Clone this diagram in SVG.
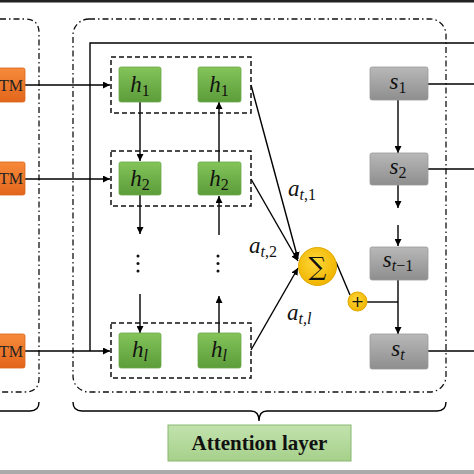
<svg xmlns="http://www.w3.org/2000/svg" width="474" height="474" viewBox="0 0 474 474">
<defs>
<linearGradient id="gGreen" x1="0" y1="0" x2="0" y2="1"><stop offset="0" stop-color="#84c45a"/><stop offset="1" stop-color="#5c9c3a"/></linearGradient>
<linearGradient id="gOrange" x1="0" y1="0" x2="0" y2="1"><stop offset="0" stop-color="#f78a3a"/><stop offset="1" stop-color="#e2661c"/></linearGradient>
<linearGradient id="gGray" x1="0" y1="0" x2="0" y2="1"><stop offset="0" stop-color="#b8b8b8"/><stop offset="1" stop-color="#8e8e8e"/></linearGradient>
<linearGradient id="gAtt" x1="0" y1="0" x2="0" y2="1"><stop offset="0" stop-color="#c2e2ae"/><stop offset="1" stop-color="#a6d08a"/></linearGradient>
<radialGradient id="gGold" cx="0.45" cy="0.4" r="0.6"><stop offset="0" stop-color="#ffd93a"/><stop offset="1" stop-color="#f0b400"/></radialGradient>
<marker id="arr" viewBox="0 0 10 10" refX="10" refY="5" markerWidth="7" markerHeight="7" markerUnits="userSpaceOnUse" orient="auto"><path d="M0,0 L10,5 L0,10 z" fill="#000"/></marker>
</defs>
<style>
.dd{fill:none;stroke:#111;stroke-width:1.3;stroke-dasharray:6 3 1.5 3}
.ds{fill:none;stroke:#111;stroke-width:1.5;stroke-dasharray:5 3}
.ln{fill:none;stroke:#000;stroke-width:1.4}
.ar{fill:none;stroke:#000;stroke-width:1.4;marker-end:url(#arr)}
.gr{fill:url(#gGreen);stroke:#6aa848;stroke-width:0.8}
.gy{fill:url(#gGray);stroke:#999;stroke-width:0.8}
.or{fill:url(#gOrange);stroke:#d8641c;stroke-width:0.8}
.m{font-family:"Liberation Serif","DejaVu Serif",serif;font-style:italic;fill:#111}
.sub{font-style:normal}
.dot{fill:#111}
.lt{font-family:"Liberation Serif",serif;font-size:16px;fill:#222}
</style>
<rect x="0" y="0" width="474" height="2.5" fill="#222"/>
<rect x="0" y="470" width="474" height="4" fill="#aaa"/>

<g id="frames">
<path class="dd" d="M0,19 H25 Q39,19 39,33 V378 Q39,392 25,392 H0"/>
<rect class="dd" x="73" y="19" width="373" height="373" rx="16"/>
<path class="ln" d="M0,411 H30 Q39,411 39,402"/>
<path class="ln" d="M73,402 Q73,411 82,411 H251 Q259,411 259,421 Q259,411 267,411 H437 Q446,411 446,402"/>
</g>

<g id="connectors">
<line class="ar" x1="25" y1="85" x2="110" y2="85"/>
<line class="ar" x1="25" y1="179" x2="110" y2="179"/>
<line class="ar" x1="25" y1="351" x2="110" y2="351"/>
<path class="ln" d="M90,351 V43 H474"/>
<line class="ar" x1="140" y1="102" x2="140" y2="161"/>
<line class="ar" x1="140" y1="195" x2="140" y2="234"/>
<line class="ar" x1="140" y1="294" x2="140" y2="333"/>
<line class="ar" x1="219" y1="162" x2="219" y2="102"/>
<line class="ar" x1="219" y1="235" x2="219" y2="196"/>
<line class="ar" x1="219" y1="333" x2="219" y2="296"/>
<line class="ar" x1="251" y1="85" x2="298" y2="259"/>
<line class="ar" x1="251" y1="179" x2="298" y2="261"/>
<line class="ar" x1="251" y1="350" x2="298" y2="268"/>
<line class="ln" x1="336" y1="262" x2="350" y2="295"/>
<line class="ln" x1="367" y1="302" x2="398" y2="302"/>
<line class="ar" x1="398" y1="100" x2="398" y2="153"/>
<line class="ar" x1="398" y1="185" x2="398" y2="208"/>
<line class="ar" x1="398" y1="225" x2="398" y2="246"/>
<line class="ar" x1="398" y1="280" x2="398" y2="334"/>
<line class="ln" x1="428" y1="84" x2="474" y2="84"/>
<line class="ln" x1="428" y1="169" x2="474" y2="169"/>
<line class="ln" x1="428" y1="351" x2="474" y2="351"/>
<circle class="dot" cx="138" cy="256" r="1.5"/><circle class="dot" cx="138" cy="263.5" r="1.5"/><circle class="dot" cx="138" cy="271" r="1.5"/>
<circle class="dot" cx="218" cy="256" r="1.5"/><circle class="dot" cx="218" cy="263.5" r="1.5"/><circle class="dot" cx="218" cy="271" r="1.5"/>
</g>

<g id="lstm1"><rect class="or" x="-5" y="68" width="30" height="34" rx="2"/><text class="lt" x="23" y="91" text-anchor="end">TM</text></g>
<g id="lstm2"><rect class="or" x="-5" y="162" width="30" height="33" rx="2"/><text class="lt" x="23" y="184" text-anchor="end">TM</text></g>
<g id="lstm3"><rect class="or" x="-5" y="334" width="30" height="34" rx="2"/><text class="lt" x="23" y="357" text-anchor="end">TM</text></g>

<g id="group1"><rect class="ds" x="111" y="57" width="140" height="56"/></g>
<g id="group2"><rect class="ds" x="111" y="151" width="140" height="55"/></g>
<g id="group3"><rect class="ds" x="111" y="323" width="140" height="55"/></g>

<g id="h1a"><rect class="gr" x="119" y="67" width="42" height="35" rx="2"/><text class="m" x="140" y="92" text-anchor="middle" font-size="23">h<tspan class="sub" font-size="16" dy="4">1</tspan></text></g>
<g id="h1b"><rect class="gr" x="198" y="67" width="43" height="35" rx="2"/><text class="m" x="219" y="92" text-anchor="middle" font-size="23">h<tspan class="sub" font-size="16" dy="4">1</tspan></text></g>
<g id="h2a"><rect class="gr" x="119" y="162" width="42" height="33" rx="2"/><text class="m" x="140" y="186" text-anchor="middle" font-size="23">h<tspan class="sub" font-size="16" dy="4">2</tspan></text></g>
<g id="h2b"><rect class="gr" x="198" y="162" width="43" height="33" rx="2"/><text class="m" x="219" y="186" text-anchor="middle" font-size="23">h<tspan class="sub" font-size="16" dy="4">2</tspan></text></g>
<g id="hla"><rect class="gr" x="119" y="333" width="42" height="35" rx="2"/><text class="m" x="140" y="357" text-anchor="middle" font-size="23">h<tspan font-size="16" dy="4">l</tspan></text></g>
<g id="hlb"><rect class="gr" x="198" y="333" width="43" height="35" rx="2"/><text class="m" x="219" y="357" text-anchor="middle" font-size="23">h<tspan font-size="16" dy="4">l</tspan></text></g>

<g id="s1"><rect class="gy" x="370" y="67" width="58" height="33" rx="2"/><text class="m" x="398" y="89" text-anchor="middle" font-size="23">s<tspan class="sub" font-size="16" dy="4">1</tspan></text></g>
<g id="s2"><rect class="gy" x="370" y="153" width="58" height="32" rx="2"/><text class="m" x="398" y="174" text-anchor="middle" font-size="23">s<tspan class="sub" font-size="16" dy="4">2</tspan></text></g>
<g id="st1"><rect class="gy" x="370" y="247" width="58" height="33" rx="2"/><text class="m" x="398" y="267" text-anchor="middle" font-size="23">s<tspan font-size="16" dy="4">t<tspan class="sub">−1</tspan></tspan></text></g>
<g id="st"><rect class="gy" x="370" y="334" width="58" height="35" rx="2"/><text class="m" x="398" y="356" text-anchor="middle" font-size="23">s<tspan font-size="16" dy="4">t</tspan></text></g>

<g id="sum"><circle cx="317.5" cy="266.5" r="19" fill="url(#gGold)" stroke="#e0a800" stroke-width="1"/><text x="317.5" y="275" text-anchor="middle" font-family="DejaVu Serif,serif" font-size="25" fill="#111">∑</text></g>
<g id="plus"><circle cx="357.5" cy="301.5" r="9.5" fill="url(#gGold)" stroke="#e0a800" stroke-width="1"/><text x="357.5" y="307" text-anchor="middle" font-family="DejaVu Sans,sans-serif" font-size="16" fill="#111">+</text></g>

<g id="labels">
<text class="m" x="288" y="196" font-size="23">a<tspan font-size="16" dy="4">t<tspan class="sub">,1</tspan></tspan></text>
<text class="m" x="249" y="253" font-size="23">a<tspan font-size="16" dy="4">t<tspan class="sub">,2</tspan></tspan></text>
<text class="m" x="287" y="320" font-size="23">a<tspan font-size="16" dy="4">t,l</tspan></text>
</g>

<g id="attention"><rect x="168" y="425" width="183" height="36" fill="url(#gAtt)" stroke="#88b870" stroke-width="1"/><text x="259.5" y="450" text-anchor="middle" font-family="Liberation Serif,serif" font-weight="bold" font-size="21" fill="#111">Attention layer</text></g>
</svg>
